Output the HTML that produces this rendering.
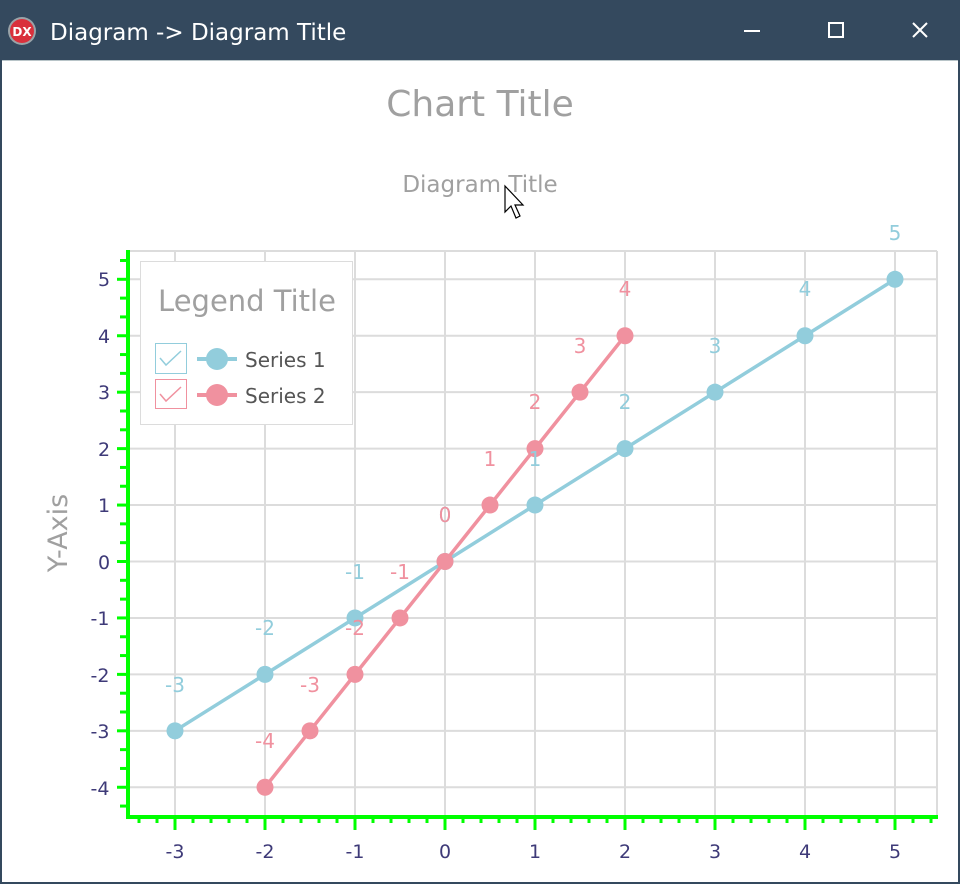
<!DOCTYPE html>
<html><head><meta charset="utf-8"><style>
html,body{margin:0;padding:0;background:#34495e;width:960px;height:884px;overflow:hidden}
svg{display:block}
text{font-family:"DejaVu Sans","Liberation Sans",sans-serif}
</style></head><body>
<svg id="s" width="960" height="884" xmlns="http://www.w3.org/2000/svg">
<rect x="0" y="0" width="960" height="884" fill="#34495e"/>
<rect x="2" y="60" width="956" height="822" fill="#ffffff"/>
<line x1="2" y1="60.5" x2="958" y2="60.5" stroke="#b8c4c8" stroke-width="1"/>
<circle cx="22" cy="31" r="14" fill="#9aa3a8"/>
<circle cx="22" cy="31" r="12" fill="#d9303c"/>
<text x="22" y="36" font-size="12" font-weight="bold" fill="#fff" text-anchor="middle">DX</text>
<text x="50" y="40" font-size="23" fill="#ffffff" font-family="Liberation Sans">Diagram -&gt; Diagram Title</text>
<line x1="744" y1="31" x2="760" y2="31" stroke="#fff" stroke-width="2"/>
<rect x="829" y="23" width="14" height="14" fill="none" stroke="#fff" stroke-width="2"/>
<path d="M913 23 L927 37 M927 23 L913 37" stroke="#fff" stroke-width="2"/>
<text x="480" y="116" font-size="36" fill="#a0a0a0" text-anchor="middle">Chart Title</text>
<text x="480" y="192" font-size="23" fill="#a0a0a0" text-anchor="middle">Diagram Title</text>
<path d="M505 186 L505 212 L511 206 L516 218 L520 216 L515 205 L523 205 Z" fill="#fff" stroke="#000" stroke-width="1.2"/>
<text transform="translate(67,533) rotate(-90)" font-size="27" fill="#a0a0a0" text-anchor="middle">Y-Axis</text>
<g id="grid" stroke="#dcdcdc" stroke-width="2"></g>
<g id="ticks" stroke="#00ff00"></g>
<g id="series"></g>
<g font-size="19" fill="#3e3a78" text-anchor="middle">
<text x="104" y="286">5</text><text x="104" y="343">4</text><text x="104" y="399">3</text>
<text x="104" y="456">2</text><text x="104" y="512">1</text><text x="104" y="569">0</text>
<text x="100" y="625">-1</text><text x="100" y="682">-2</text><text x="100" y="738">-3</text><text x="100" y="795">-4</text>
<text x="175" y="858">-3</text><text x="265" y="858">-2</text><text x="355" y="858">-1</text><text x="445" y="858">0</text>
<text x="535" y="858">1</text><text x="625" y="858">2</text><text x="715" y="858">3</text><text x="805" y="858">4</text><text x="895" y="858">5</text>
</g>
<g font-size="20" text-anchor="middle" fill="#92cddc">
<text x="175" y="692">-3</text><text x="265" y="635">-2</text><text x="355" y="579">-1</text><text x="445" y="522">0</text>
<text x="535" y="466">1</text><text x="625" y="409">2</text><text x="715" y="353">3</text><text x="805" y="296">4</text><text x="895" y="240">5</text>
</g>
<g font-size="20" text-anchor="middle" fill="#f0919f">
<text x="265" y="748">-4</text><text x="310" y="692">-3</text><text x="355" y="635">-2</text><text x="400" y="579">-1</text>
<text x="445" y="522">0</text><text x="490" y="466">1</text><text x="535" y="409">2</text><text x="580" y="353">3</text><text x="625" y="296">4</text>
</g>
<rect x="140.5" y="261.5" width="212" height="163" fill="#fff" stroke="#dcdcdc" stroke-width="1"/>
<text x="247" y="311" font-size="29" fill="#a0a0a0" text-anchor="middle">Legend Title</text>
<rect x="155.5" y="343.5" width="31" height="30" fill="#fff" stroke="#92cddc"/>
<path d="M160 358 L166 365 L181 351" fill="none" stroke="#92cddc" stroke-width="1.5"/>
<rect x="155.5" y="379.5" width="31" height="29" fill="#fff" stroke="#f0919f"/>
<path d="M160 394 L166 401 L181 387" fill="none" stroke="#f0919f" stroke-width="1.5"/>
<line x1="197" y1="359" x2="237" y2="359" stroke="#92cddc" stroke-width="4"/>
<circle cx="217" cy="359" r="11" fill="#92cddc"/>
<line x1="197" y1="395" x2="237" y2="395" stroke="#f0919f" stroke-width="4"/>
<circle cx="217" cy="395" r="11" fill="#f0919f"/>
<text x="245" y="367" font-size="20" fill="#555">Series 1</text>
<text x="245" y="403" font-size="20" fill="#555">Series 2</text>
</svg>
<script>
var NS="http://www.w3.org/2000/svg";
function el(p,t,a){var e=document.createElementNS(NS,t);for(var k in a)e.setAttribute(k,a[k]);p.appendChild(e);return e;}
function X(v){return 445+90*v;} function Y(v){return 561.5-56.44*v;}
var g=document.getElementById('grid');
for(var i=-3;i<=5;i++){el(g,'line',{x1:X(i),y1:251,x2:X(i),y2:816});}
el(g,'line',{x1:937,y1:251,x2:937,y2:816});
for(var j=-4;j<=5;j++){el(g,'line',{x1:127,y1:Y(j),x2:937,y2:Y(j)});}
el(g,'line',{x1:127,y1:251,x2:937,y2:251});
var t=document.getElementById('ticks');
for(var k=-17;k<=27;k++){var x=X(k/5);var maj=(k%5==0);el(t,'line',{x1:x,y1:816,x2:x,y2:maj?830:823,'stroke-width':3});}
for(var k=-13;k<=16;k++){var y=Y(k/3);var maj=(k%3==0);el(t,'line',{x1:maj?117:120,y1:y,x2:127,y2:y,'stroke-width':3});}
el(t,'line',{x1:128,y1:250,x2:128,y2:818,'stroke-width':4});
el(t,'line',{x1:126,y1:817,x2:938,y2:817,'stroke-width':4});
var s=document.getElementById('series');
function ser(pts,c){var d=pts.map(function(p,i){return (i?'L':'M')+X(p[0])+' '+Y(p[1]);}).join(' ');
el(s,'path',{d:d,fill:'none',stroke:c,'stroke-width':3.5});
pts.forEach(function(p){el(s,'circle',{cx:X(p[0]),cy:Y(p[1]),r:8.5,fill:c});});}
var a=[],b=[];for(var i=-3;i<=5;i++)a.push([i,i]);for(var i=-4;i<=4;i++)b.push([i/2,i]);
ser(a,'#92cddc');ser(b,'#f0919f');
</script>
</body></html>
